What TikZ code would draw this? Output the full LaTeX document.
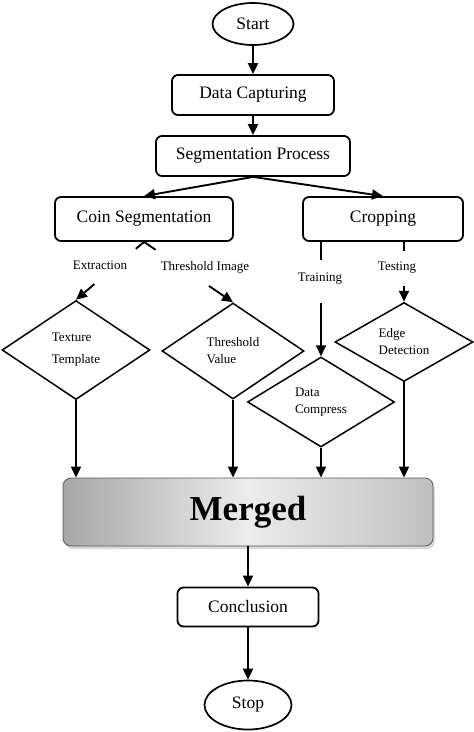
\documentclass[tikz,border=0pt]{standalone}
\usepackage{fontspec}
\setmainfont{Liberation Serif}
\usepackage{tikz}
\usetikzlibrary{positioning, arrows}
\usetikzlibrary{arrows.meta, shapes.geometric, shadows, calc}

\begin{document}
\begin{tikzpicture}[x=1pt, y=-1pt, >={Triangle[length=11pt, width=10pt]}, line width=1.9pt, on grid,
    box/.style={rectangle, draw, rounded corners=6pt, line width=1.8pt, font=\fontsize{17.5}{20}\selectfont},
    term/.style={ellipse, draw, line width=1.7pt, font=\fontsize{17.5}{20}\selectfont},
    test/.style={diamond, draw, line width=1.5pt, inner sep=0pt, align=left, font=\fontsize{13}{17}\selectfont},
    merge/.style={rectangle, rounded corners=8pt, draw=gray!70!black, line width=0.8pt,
        left color=gray!70, right color=gray!50, middle color=gray!15,
        drop shadow={shadow xshift=2pt, shadow yshift=-3pt, opacity=0.3},
        font=\fontsize{35}{40}\selectfont\bfseries},
    lbl/.style={font=\fontsize{13}{15}\selectfont}]

    \useasboundingbox (0,0) rectangle (474,732);

    % Define nodes
    \node[term, minimum width=81pt, minimum height=42pt] (start) at (253,24) {Start};
    \node[box, minimum width=162pt, minimum height=40pt, below=71pt of start] (capture) {Data Capturing};
    \node[box, minimum width=194pt, minimum height=40pt, below=61pt of capture] (segproc) {Segmentation Process};
    \node[box, minimum width=178pt, minimum height=44pt, below left=63pt and 109pt of segproc] (coinseg) {Coin Segmentation};
    \node[box, minimum width=160pt, minimum height=44pt, below right=63pt and 130pt of segproc] (crop) {Cropping};

    \node[test, minimum width=148pt, minimum height=99pt] (texture) at (76,350) {Texture\\[5pt]Template};
    \node[test, minimum width=142pt, minimum height=96pt] (thresh) at (233,351) {Threshold\\Value};
    \node[test, minimum width=147pt, minimum height=90pt] (compress) at (321,402) {Data\\Compress};
    \node[test, minimum width=138pt, minimum height=79pt] (edge) at (404,342) {Edge\\Detection};

    \node[merge, minimum width=370pt, minimum height=68pt] (merged) at (248,512) {Merged};
    \node[box, minimum width=141pt, minimum height=39pt, below=95pt of merged] (concl) {Conclusion};
    \node[term, minimum width=87pt, minimum height=49pt, below=98pt of concl] (stop) {Stop};

    % Labels on the branches
    \node[lbl] (extr) at (100,265) {Extraction};
    \node[lbl] (thimg) at (205,267) {Threshold Image};
    \node[lbl] (train) at (320,279) {Training};
    \node[lbl] (testg) at (397,268) {Testing};

    \coordinate (trainTop) at (compress.north |- crop.south);
    \coordinate (testTop) at (edge.north |- crop.south);

    % Draw edges with arrows
    \draw[->] (start) -- (capture);
    \draw[->] (capture) -- (segproc);
    \draw[->] (segproc.south) -- (coinseg.north);
    \draw[->] (segproc.south) -- (crop.north);

    \draw (coinseg.south) -- ($(coinseg.south)!0.12!(texture.north)$);
    \draw[->] ($(coinseg.south)!0.73!(texture.north)$) -- (texture.north);
    \draw (coinseg.south) -- ($(coinseg.south)!0.13!(thresh.north)$);
    \draw[->] ($(coinseg.south)!0.73!(thresh.north)$) -- (thresh.north);
    \draw (trainTop) -- ($(trainTop)!0.16!(compress.north)$);
    \draw[->] ($(trainTop)!0.53!(compress.north)$) -- (compress.north);
    \draw (testTop) -- ($(testTop)!0.15!(edge.north)$);
    \draw[->] ($(testTop)!0.74!(edge.north)$) -- (edge.north);

    \draw[->] (texture.south) -- (texture.south |- merged.north);
    \draw[->] (thresh.south) -- (thresh.south |- merged.north);
    \draw[->] (compress.south) -- (compress.south |- merged.north);
    \draw[->] (edge.south) -- (edge.south |- merged.north);

    \draw[->] (merged) -- (concl);
    \draw[->] (concl) -- (stop);

\end{tikzpicture}
\end{document}
